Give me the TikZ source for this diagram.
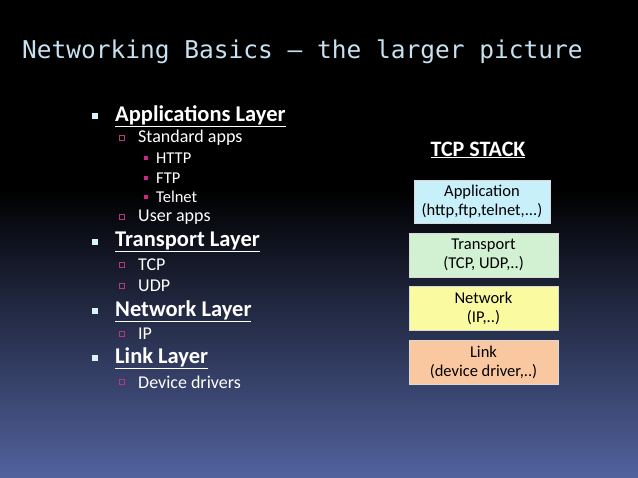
\documentclass[tikz,border=0pt]{standalone}
\usepackage{fontspec}
\setmainfont{Carlito}
\newfontfamily\titlefont{DejaVu Sans Mono}
\begin{document}
\begin{tikzpicture}[x=1pt,y=-1pt,
  lone/.style={anchor=west,text=white,inner sep=0pt,font=\fontsize{22.5}{24}\selectfont\bfseries},
  ltwo/.style={anchor=west,text=white,inner sep=0pt,font=\fontsize{18}{20}\selectfont},
  lthree/.style={anchor=west,text=white,inner sep=0pt,font=\fontsize{16.5}{18}\selectfont},
  bone/.style={fill=cyan!15!white,minimum size=6pt,inner sep=0pt},
  btwo/.style={draw=magenta!70!black,line width=0.8pt,minimum size=5pt,inner sep=0pt},
  bthree/.style={fill=magenta!80!black,minimum size=3.5pt,inner sep=0pt},
  layer/.style={draw=white!85!black,line width=0.6pt,align=center,font=\fontsize{16.5}{19}\selectfont,text=black,inner sep=0pt}]
\useasboundingbox (0,0) rectangle (638,478);
\fill[black] (0,0) rectangle (638,190);
\shade[top color=black,bottom color={rgb,255:red,82;green,98;blue,158}] (0,189) rectangle (638,478);
\node[anchor=west,inner sep=0pt,text={rgb,255:red,200;green,225;blue,240},font=\titlefont\fontsize{24.5}{26}\selectfont] (title) at (22,52) {Networking Basics – the larger picture};
% items
\node[bone] (b1) at (95,116) {}; \node[lone] (t1) at (115,116) {\underline{Applications Layer}};
\node[btwo] (b2) at (122,138) {}; \node[ltwo] (t2) at (138,138) {Standard apps};
\node[bthree] (b3) at (146,158) {}; \node[lthree] (t3) at (156,158) {HTTP};
\node[bthree] (b4) at (146,178) {}; \node[lthree] (t4) at (156,178) {FTP};
\node[bthree] (b5) at (146,197) {}; \node[lthree] (t5) at (156,197) {Telnet};
\node[btwo] (b6) at (122,217) {}; \node[ltwo] (t6) at (138,217) {User apps};
\node[bone] (b7) at (95,242) {}; \node[lone] (t7) at (115,242) {\underline{Transport Layer}};
\node[btwo] (b8) at (122,265) {}; \node[ltwo] (t8) at (138,265) {TCP};
\node[btwo] (b9) at (122,286) {}; \node[ltwo] (t9) at (138,286) {UDP};
\node[bone] (b10) at (95,311) {}; \node[lone] (t10) at (115,311) {\underline{Network Layer}};
\node[btwo] (b11) at (122,334) {}; \node[ltwo] (t11) at (138,334) {IP};
\node[bone] (b12) at (95,358) {}; \node[lone] (t12) at (115,358) {\underline{Link Layer}};
\node[btwo] (b13) at (122,382) {}; \node[ltwo] (t13) at (138,382) {Device drivers};
% stack
\node[text=white,font=\fontsize{22}{24}\selectfont\bfseries] (stk) at (478,150) {\underline{TCP STACK}};
\node[layer,fill={rgb,255:red,200;green,240;blue,250},minimum width=136pt,minimum height=43pt] (app) at (482,201.5) {Application\\(http,ftp,telnet,...)};
\node[layer,fill={rgb,255:red,210;green,240;blue,210},minimum width=149pt,minimum height=44pt] (tr) at (483.5,255) {Transport\\(TCP, UDP,..)};
\node[layer,fill={rgb,255:red,250;green,250;blue,160},minimum width=149pt,minimum height=44pt] (nw) at (483.5,308) {Network\\(IP,..)};
\node[layer,fill={rgb,255:red,250;green,200;blue,160},minimum width=149pt,minimum height=44pt] (lk) at (483.5,362) {Link\\(device driver,..)};
\end{tikzpicture}
\end{document}
